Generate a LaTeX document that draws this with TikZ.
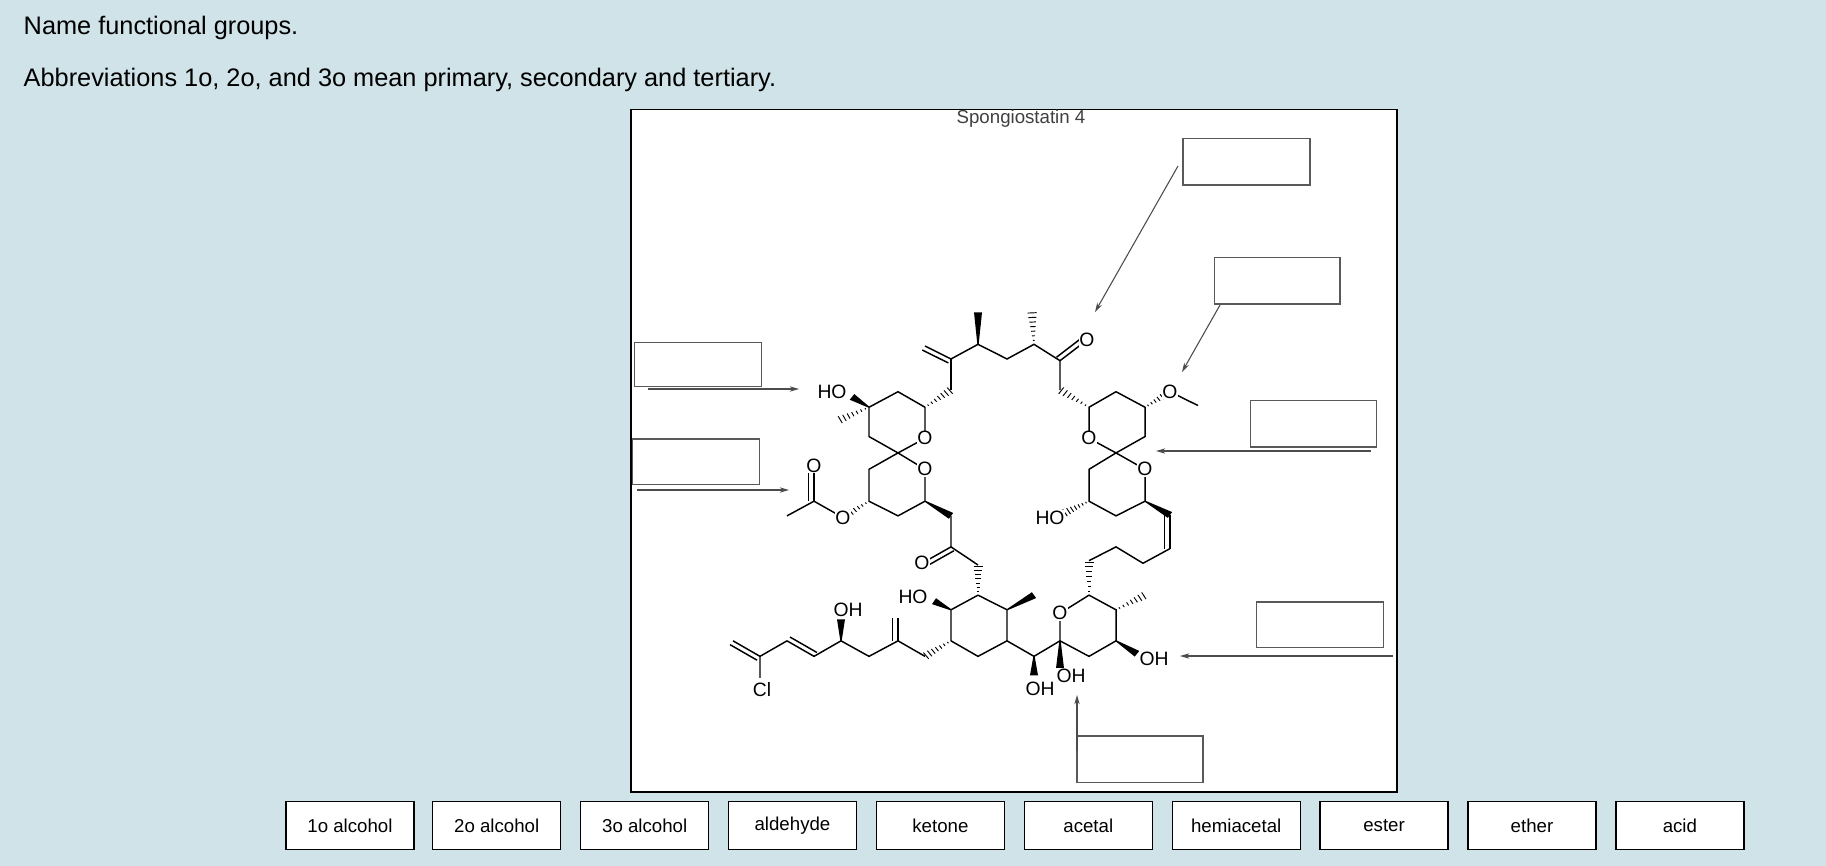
\documentclass[tikz,border=0pt]{standalone}
\usepackage{fontspec}
\setmainfont{Liberation Sans}
\usetikzlibrary{calc,arrows.meta}
\definecolor{bgc}{RGB}{208,227,232}
\tikzset{
  bond/.style={line width=1.1pt},
  atm/.style={fill=white,inner sep=0.5pt,font=\fontsize{14.5}{14.5}\selectfont},
  blank/.style={draw=black!65,line width=0.9pt,fill=white},
  ans/.style={draw=black,line width=1pt,fill=white,minimum width=96pt,minimum height=36pt,inner sep=0pt,font=\fontsize{14}{14}\selectfont},
  pt/.style={draw=black!70,line width=0.8pt,-{Stealth[length=7pt,width=4pt]}}
}
\newcommand\wdg[2]{\fill ($(#1)!0.5pt!90:(#2)$) -- ($(#1)!0.5pt!-90:(#2)$) -- ($(#2)!3pt!90:(#1)$) -- ($(#2)!3pt!-90:(#1)$) -- cycle;}
\newcommand\hsh[2]{\foreach \t [evaluate=\t as \w using \t*3.2+0.3] in {0.12,0.26,...,1.0}{\coordinate (hp) at ($(#1)!\t!(#2)$); \draw[line width=0.7pt] ($(hp)!\w pt!90:(#2)$) -- ($(hp)!\w pt!-90:(#2)$);}}
\newcommand\dbl[2]{\draw[bond] (#1)--(#2); \draw[bond] ($(#1)!4pt!90:(#2)$) -- ($(#2)!4pt!-90:(#1)$);}
\begin{document}
\begin{tikzpicture}[x=0.75pt,y=-0.75pt]
\useasboundingbox (0,0) rectangle (1826,866);
\fill[bgc] (0,0) rectangle (1826,866);
\node[anchor=west,font=\fontsize{19}{19}\selectfont] (t1) at (19,28) {Name functional groups.};
\node[anchor=west,font=\fontsize{19}{19}\selectfont] (t2) at (19,80) {Abbreviations 1o, 2o, and 3o mean primary, secondary and tertiary.};
\draw[fill=white,line width=1pt] (631,109.5) rectangle (1397,792);
\node[font=\fontsize{14}{14}\selectfont,text=black!75] (title) at (1021,119) {Spongiostatin 4};
\begin{scope}[cm={1,0,0,0.862,(0,43.5)}]
\foreach \n/\x/\y in {m1/925/351,e1/951/366,c1/978/349,w1/978/312,c2/1007/366,c3/1034/349,h3/1032/311,k1/1060/368,ko/1087/344,
 l1/951/402,ra/925/422,rb/898/404,rc/869/422,hoA/852/410,mA/839/437,rd/869/456,sp1/898/475,o1/925/458,
 o2/925/494,r2a/925/531,r2b/898/548,r2c/869/531,r2d/869/494,oAc/843/550,acC/814/531,acO/814/490,acM/787/548,
 w2/951/548,l2/951/584,ko2/922/603,l3/978/605,
 cy1/978/640,cy2/1007/657,cym/1034/640,cy3/1007/693,cy4/978/711,cy5/951/693,cy6/951/657,hoB/934/647,
 s1/925/711,s2/898/693,s2m/898/666,s3/869/711,s4/841/693,s4o/841/668,s5/814/711,s6/787/693,s7/760/711,clb/760/736,s8/733/693,
 t1/1034/711,t1o/1034/733,hk/1060/693,hko/1060/725,oR/1060/661,p1/1089/640,p2/1116/657,p2m/1145/640,p3/1116/693,p3o/1137/708,p4/1089/711,
 ch1/1089/600,ch2/1116/584,ch3/1143/603,ch4/1170/586,ch5/1170/547,
 q1/1145/531,qO/1145/494,sp2/1116/475,q3/1089/494,q4/1089/531,hoC/1064/545,q5/1116/548,
 qO2/1089/458,u1/1089/422,u2/1116/404,u3/1145/422,uO/1170/404,uM/1198/420,u4/1145/456,v1/1060/402}
 {\coordinate (\n) at (\x,\y);}
\dbl{e1}{m1}
\draw[bond] (e1)--(c1)--(c2)--(c3)--(k1)--(v1);
\wdg{c1}{w1} \hsh{c3}{h3}
\dbl{k1}{ko}
\draw[bond] (e1)--(l1); \hsh{ra}{l1}
\draw[bond] (ra)--(rb)--(rc)--(rd)--(sp1)--(o1)--(ra);
\wdg{rc}{hoA} \hsh{rc}{mA}
\draw[bond] (sp1)--(o2)--(r2a)--(r2b)--(r2c)--(r2d)--(sp1);
\hsh{r2c}{oAc} \draw[bond] (oAc)--(acC)--(acM); \dbl{acC}{acO}
\wdg{r2a}{w2} \draw[bond] (w2)--(l2)--(l3); \dbl{l2}{ko2}
\hsh{cy1}{l3}
\draw[bond] (cy1)--(cy2)--(cy3)--(cy4)--(cy5)--(cy6)--(cy1);
\wdg{cy2}{cym} \wdg{cy6}{hoB}
\hsh{cy5}{s1} \draw[bond] (s1)--(s2)--(s3)--(s4)--(s5); \dbl{s2}{s2m}
\wdg{s4}{s4o} \dbl{s6}{s5} \draw[bond] (s6)--(s7)--(clb); \dbl{s7}{s8}
\draw[bond] (cy3)--(t1)--(hk); \wdg{t1}{t1o} \wdg{hk}{hko}
\draw[bond] (hk)--(oR)--(p1)--(p2)--(p3)--(p4)--(hk);
\hsh{p2}{p2m} \wdg{p3}{p3o} \hsh{p1}{ch1}
\draw[bond] (ch1)--(ch2)--(ch3)--(ch4); \dbl{ch4}{ch5}
\wdg{q1}{ch5}
\draw[bond] (q1)--(qO)--(sp2)--(q3)--(q4)--(q5)--(q1);
\hsh{q4}{hoC}
\draw[bond] (sp2)--(qO2)--(u1)--(u2)--(u3)--(u4)--(sp2);
\hsh{u3}{uO} \draw[bond] (uO)--(uM);
\hsh{u1}{v1}
\node[atm] (lko) at (ko) {O};
\node[atm] (lhoA) at (832,404) {HO};
\node[atm] (lo1) at (o1) {O};
\node[atm] (lo2) at (o2) {O};
\node[atm] (loAc) at (oAc) {O};
\node[atm] (lacO) at (acO) {O};
\node[atm] (lko2) at (ko2) {O};
\node[atm] (lhoB) at (913,642) {HO};
\node[atm] (ls4o) at (848,657) {OH};
\node[atm] (lcl) at (762,749) {Cl};
\node[atm] (lt1o) at (1040,749) {OH};
\node[atm] (lhko) at (1071,733) {OH};
\node[atm] (loR) at (oR) {O};
\node[atm] (lp3o) at (1154,714) {OH};
\node[atm] (lqO) at (qO) {O};
\node[atm] (lqO2) at (qO2) {O};
\node[atm] (lhoC) at (1050,550) {HO};
\node[atm] (luO) at (uO) {O};
\end{scope}
\draw[blank] (1183,138.6) rectangle (1310,185);
\draw[blank] (1214.6,257.4) rectangle (1340,304);
\draw[blank] (1250.7,400.6) rectangle (1376.4,447);
\draw[blank] (1256.5,602) rectangle (1383.4,647.5);
\draw[blank] (1077,736) rectangle (1203,782.5);
\draw[blank] (634.6,342.4) rectangle (761.6,386.6);
\draw[blank] (632.3,439) rectangle (759.3,484.4);
\coordinate (a1s) at (1178,166); \coordinate (a1e) at (1095,312);
\coordinate (a2s) at (1220,305); \coordinate (a2e) at (1182,372);
\coordinate (a3s) at (1371,451); \coordinate (a3e) at (1156,451);
\coordinate (a4s) at (1393,656); \coordinate (a4e) at (1180,656);
\coordinate (a5s) at (1077,751); \coordinate (a5e) at (1077,695);
\coordinate (a6s) at (648,389); \coordinate (a6e) at (799,389);
\coordinate (a7s) at (637,490); \coordinate (a7e) at (789,490);
\foreach \i in {1,...,7}{\draw[pt] (a\i s)--(a\i e);}
\foreach \x/\lab [count=\i] in {285.3/1o alcohol,432/2o alcohol,580/3o alcohol,727.8/aldehyde,875.7/ketone,1023.6/acetal,1171.5/hemiacetal,1319.4/ester,1467.3/ether,1615.2/acid}
  {\node[ans,anchor=north west] (b\i) at (\x,801) {\lab};}
\end{tikzpicture}
\end{document}
